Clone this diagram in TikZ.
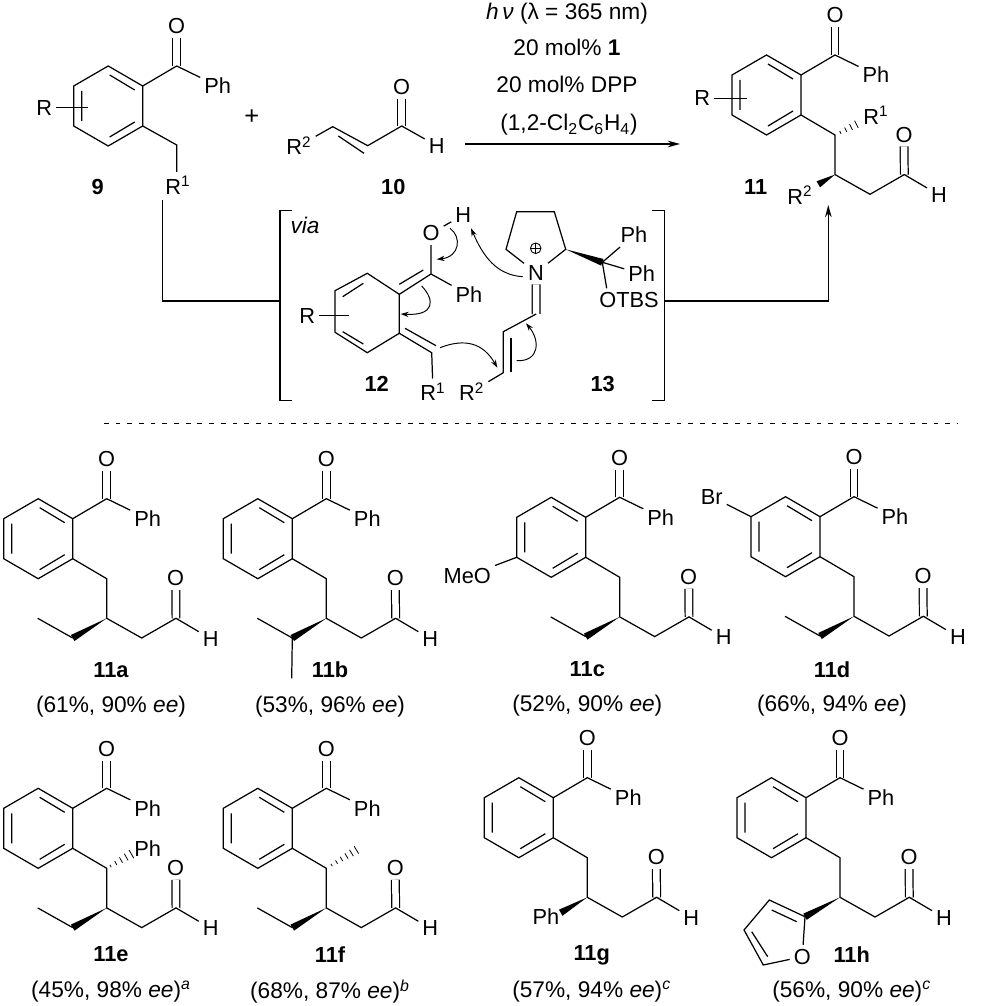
\documentclass[tikz,border=0pt]{standalone}
\usepackage{fontspec}
\setmainfont{Liberation Sans}
\usetikzlibrary{calc,arrows.meta}
\tikzset{
  atom/.style={inner sep=2pt,font=\fontsize{12.4}{14}\selectfont},
  tag/.style={inner sep=0pt,font=\fontsize{12.4}{14}\selectfont\bfseries},
  yield/.style={inner sep=0pt,font=\fontsize{12.9}{15}\selectfont},
  dbl/.style={double,double distance=3.7pt},
  bigarrow/.style={-{Stealth[length=7pt,width=3.8pt]}},
  curly/.style={-{Stealth[length=4.5pt,width=3pt]},line width=0.55pt}
}
\newcommand{\wedgebond}[2]{\fill (#1) -- ($(#2)!2pt!90:(#1)$) -- ($(#2)!2pt!-90:(#1)$) -- cycle;}
\newcommand{\hashbond}[3]{\foreach \hpos in {#3} {\pgfmathsetmacro\hw{0.4+\hpos*2.4}
  \draw[line width=0.45pt] ($(#1)!\hpos!(#2)!\hw pt!90:(#2)$) -- ($(#1)!\hpos!(#2)!\hw pt!-90:(#2)$);}}
\newcommand{\benzoyl}[3]{
\begin{scope}[shift={(#2,#3)}]
\coordinate (#1-r1) at (0,0); \coordinate (#1-r2) at (-34.5,-20); \coordinate (#1-r3) at (-69,0);
\coordinate (#1-r4) at (-69,40); \coordinate (#1-r5) at (-34.5,60); \coordinate (#1-r6) at (0,40);
\coordinate (#1-co) at (34,-20);
\node[atom] (#1-o) at (34,-59.5) {O};
\node[atom] (#1-ph) at (75,0) {Ph};
\draw[dbl] (#1-co) -- (#1-o);
\draw (#1-r1) -- (#1-r2) -- (#1-r3) -- (#1-r4) -- (#1-r5) -- (#1-r6) -- cycle;
\draw (-8,4) -- (-33,-11) (-8,36) -- (-33,51) (-61,5) -- (-61,35);
\draw (#1-r1) -- (#1-co) -- (#1-ph);
\end{scope}}
\newcommand{\butanal}[3]{
\begin{scope}[shift={(#2,#3)}]
\coordinate (#1-c1) at (34,60); \coordinate (#1-c2) at (34,99.6);
\coordinate (#1-c3) at (69,119.3); \coordinate (#1-c4) at (103.3,99.6);
\node[atom] (#1-oa) at (103,59.6) {O};
\node[atom] (#1-h) at (138,120) {H};
\draw[dbl] (#1-c4) -- (#1-oa);
\draw (#1-r6) -- (#1-c1) -- (#1-c2) -- (#1-c3) -- (#1-c4) -- (#1-h);
\coordinate (#1-w) at (0,119.3); \coordinate (#1-me) at (-35,99.6);
\end{scope}}
\begin{document}
\begin{tikzpicture}[x=0.02cm,y=-0.02cm,line width=0.7pt]
\useasboundingbox (0,0) rectangle (980,1006);
% starting materials
\benzoyl{nine}{142.7}{86}
\node[atom] (nine-R) at (44.3,107.7) {R};
\coordinate (nine-Rend) at (88.3,107.7);
\draw (nine-R) -- (nine-Rend);
\coordinate (nine-c1) at (176.7,145);
\node[atom] (nine-R1) at (178,185) {R\textsuperscript{1}};
\draw (nine-r6) -- (nine-c1) -- (nine-c1 |- nine-R1.north);
\node[tag] (tagnine) at (97.7,186.7) {9};
\node[atom,font=\fontsize{14.5}{16}\selectfont] (plus) at (251.7,117) {+};
\coordinate (ten-a) at (332.7,126.7); \coordinate (ten-b) at (367.7,145.7); \coordinate (ten-c) at (401.7,126);
\node[atom] (ten-R) at (299,145.7) {R\textsuperscript{2}};
\node[atom] (ten-o) at (401.7,86.7) {O};
\node[atom] (ten-h) at (436.7,145.7) {H};
\draw[dbl] (ten-c) -- (ten-o);
\draw (ten-R) -- (ten-a) -- (ten-b) -- (ten-c) -- (ten-h);
\draw (338.3,136) -- (364,153.3);
\node[tag] (tagten) at (393.3,186.7) {10};
% conditions
\coordinate (arrowstart) at (465,144); \coordinate (arrowend) at (680,144);
\draw[bigarrow] (arrowstart) -- (arrowend);
\node[yield,anchor=base] (cond1) at (567,20) {\emph{h}\,\emph{ν} (λ = 365 nm)};
\node[yield,anchor=base] (cond2) at (567,56) {20 mol\% \textbf{1}};
\node[yield,anchor=base] (cond3) at (567,93) {20 mol\% DPP};
\node[yield,anchor=base] (cond4) at (569,131) {(1,2-Cl\textsubscript{2}C\textsubscript{6}H\textsubscript{4})};
% general product
\benzoyl{top}{801}{75}
\butanal{top}{801}{75}
\node[atom] (top-R) at (702.3,98.3) {R};
\coordinate (top-Rend) at (747.3,98.3);
\draw (top-R) -- (top-Rend);
\node[atom] (top-R1) at (876,115) {R\textsuperscript{1}};
\node[atom] (top-R2) at (800,195) {R\textsuperscript{2}};
\coordinate (top-hash) at (861.7,121.7);
\hashbond{top-c1}{top-hash}{0.2,0.4,0.6,0.8,1}
\coordinate (top-wide) at (818.3,184.3);
\wedgebond{top-c2}{top-wide}
\node[tag] (tagtop) at (755.7,186.7) {11};
% brackets and lines
\coordinate (brtl) at (292.3,210.7); \coordinate (brbl) at (292.3,400.7);
\coordinate (brtr) at (652.3,210.7); \coordinate (brbr) at (652.3,400.7);
\draw (brtl) -- (280,210.7) -- (280,400.7) -- (brbl);
\draw (brtr) -- (664.3,210.7) -- (664.3,400.7) -- (brbr);
\coordinate (leftin) at (280,301); \coordinate (rightout) at (664.3,301);
\coordinate (leftstart) at (162.3,200); \coordinate (rightend) at (828.3,205);
\draw (leftstart) |- (leftin);
\draw[bigarrow] (rightout) -| (rightend);
\node[yield] (via) at (305,225.7) {\emph{via}};
% intermediate 12
\coordinate (tw-1) at (399.3,294.3); \coordinate (tw-2) at (367.3,273.3); \coordinate (tw-3) at (335,290.7);
\coordinate (tw-4) at (335,332.3); \coordinate (tw-5) at (367.3,352.7); \coordinate (tw-6) at (399.3,333.3);
\coordinate (tw-c) at (431,274); \coordinate (tw-d) at (431.7,352.7);
\node[atom] (tw-o) at (431,233.3) {O};
\node[atom] (tw-h) at (463.3,215) {H};
\node[atom] (tw-ph) at (469,295) {Ph};
\node[atom] (tw-R) at (307.3,315.7) {R};
\node[atom] (tw-R1) at (433,391.7) {R\textsuperscript{1}};
\coordinate (tw-Rend) at (349,315.7);
\draw (tw-1) -- (tw-2) -- (tw-3) -- (tw-4) -- (tw-5) -- (tw-6) -- cycle;
\draw (342.7,296.7) -- (363.3,283.3) (342.7,331.7) -- (363.3,344);
\draw (tw-1) -- (tw-c) -- (tw-o) -- (tw-h) (tw-c) -- (tw-ph);
\draw (399.3,284.3) -- (423.3,270);
\draw (tw-6) -- (tw-d) -- (tw-R1);
\draw (405,328.3) -- (436,345.7);
\draw (tw-R) -- (tw-Rend);
\node[tag] (tagtw) at (376.7,384) {12};
% iminium 13
\node[atom] (th-N) at (536,272.7) {N};
\coordinate (th-a) at (506,249.3); \coordinate (th-b) at (516.7,211.7);
\coordinate (th-c) at (554.3,211.7); \coordinate (th-d) at (565.7,249.3);
\draw (th-N) -- (th-a) -- (th-b) -- (th-c) -- (th-d) -- (th-N);
\node[circle,draw,inner sep=0pt,minimum size=10.6*0.02cm,line width=0.5pt] (th-plus) at (535.7,248.3) {};
\draw[line width=0.5pt] (th-plus.north) -- (th-plus.south) (th-plus.west) -- (th-plus.east);
\coordinate (th-q) at (602.3,262.3);
\wedgebond{th-d}{th-q}
\node[atom] (th-ph1) at (634,235) {Ph};
\node[atom] (th-ph2) at (641.7,274) {Ph};
\node[atom] (th-otbs) at (629,300) {OTBS};
\draw (th-q) -- (th-ph1) (th-q) -- (th-ph2) (th-q) -- (606.7,288.3);
\coordinate (th-e) at (536.2,314); \coordinate (th-f) at (503.3,331.7);
\coordinate (th-g) at (503.3,372.7); \coordinate (th-k) at (486.7,382.3);
\node[atom] (th-R2) at (471.7,391.7) {R\textsuperscript{2}};
\draw[dbl] (th-e) -- (th-N);
\draw (th-e) -- (th-f) -- (th-g) -- (th-R2);
\draw (511,338.3) -- (511,372);
\node[tag] (tagth) at (602.7,384) {13};
% electron pushing
\draw[curly] (450,228.3) .. controls (461.7,236.7) and (460,256.7) .. (436.7,259.3);
\draw[curly] (421.7,286) .. controls (435,300) and (435,316) .. (400.7,314);
\draw[curly] (440,347.7) .. controls (465,338) and (483.3,343) .. (497.3,367.7);
\draw[curly] (516.7,360.7) .. controls (540,361.7) and (540,340) .. (526,323.3);
\draw[curly] (522.7,276.7) .. controls (496.7,275) and (483.3,256.7) .. (471,228.3);
% separator
\coordinate (sepl) at (104,423.5); \coordinate (sepr) at (958,423.5);
\draw[line width=0.55pt,dash pattern=on 2.7pt off 3.95pt] (sepl) -- (sepr);
% scope
\foreach \x/\y/\n/\lx/\ly/\cy/\yld in {
  72.7/518.7/a/111/670/707/{(61\%, 90\% \emph{ee})},
  292.3/518.7/b/330/670/707/{(53\%, 96\% \emph{ee})},
  585.7/517.3/c/587.3/669.3/706/{(52\%, 90\% \emph{ee})},
  820/516.7/d/832/669.3/706/{(66\%, 94\% \emph{ee})},
  72.7/808.3/e/111/954.3/991.7/{(45\%, 98\% \emph{ee})\textsuperscript{\emph{a}}},
  292.3/808.3/f/330/954.3/991.7/{(68\%, 87\% \emph{ee})\textsuperscript{\emph{b}}},
  553.3/797.7/g/591.7/955/991.7/{(57\%, 94\% \emph{ee})\textsuperscript{\emph{c}}},
  806/797.7/h/851.7/955/991.7/{(56\%, 90\% \emph{ee})\textsuperscript{\emph{c}}}} {
  \benzoyl{\n}{\x}{\y}
  \butanal{\n}{\x}{\y}
  \node[tag] (tag\n) at (\lx,\ly) {11\n};
  \node[yield] (yield\n) at (\lx,\cy) {\yld};
}
\foreach \n in {a,b,c,d,e,f} {
  \wedgebond{\n-c2}{\n-w}
  \draw (\n-w) -- (\n-me);
}
\coordinate (b-end) at (291.7,678.3);
\draw (b-w) -- (b-end);
\node[atom,anchor=east] (c-meo) at (495,576) {MeO};
\draw (c-r4) -- (c-meo);
\node[atom] (d-br) at (711.7,496.7) {Br};
\draw (d-r3) -- (d-br);
\node[atom] (e-ph2) at (147.7,848.3) {Ph};
\coordinate (e-hash) at (132.7,853.3);
\hashbond{e-c1}{e-hash}{0.15,0.35,0.55,0.75,0.95}
\coordinate (f-hash) at (361.7,846.7);
\hashbond{f-c1}{f-hash}{0.15,0.29,0.43,0.57,0.71,0.85,1}
\node[atom] (g-ph2) at (546,916.7) {Ph};
\coordinate (g-wide) at (560.7,912.7);
\wedgebond{g-c2}{g-wide}
\coordinate (fu-2) at (805,916.7); \coordinate (fu-3) at (769.3,900);
\coordinate (fu-4) at (744,930); \coordinate (fu-5) at (763.3,965);
\node[atom] (fu-o) at (802.3,956.7) {O};
\wedgebond{h-c2}{fu-2}
\draw (fu-o) -- (fu-2) -- (fu-3) -- (fu-4) -- (fu-5) -- (fu-o);
\draw (771.7,910) -- (796.7,921.7) (751.7,931.7) -- (767.7,956.7);
\end{tikzpicture}
\end{document}
